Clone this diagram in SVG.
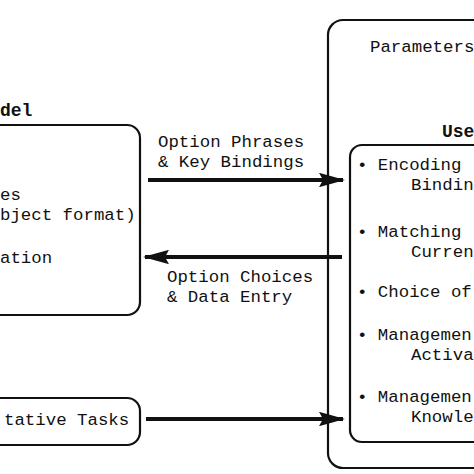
<svg xmlns="http://www.w3.org/2000/svg" width="474" height="474" viewBox="0 0 474 474">
<style>
.t{font-family:"Liberation Mono","Courier New",monospace;font-size:17.4px;fill:#111}
.b{font-family:"Liberation Mono","Courier New",monospace;font-size:18px;font-weight:bold;fill:#111}
.box{fill:none;stroke:#111;stroke-width:2.2}
.arr{stroke:#111;stroke-width:4;fill:none}
</style>
<defs>
<marker id="ah" markerWidth="6.5" markerHeight="3.6" refX="6" refY="1.8" orient="auto" markerUnits="strokeWidth">
<path d="M0,0 L6.5,1.8 L0,3.6 L1,1.8 Z" fill="#111"/>
</marker>
</defs>
<rect width="474" height="474" fill="#fff"/>
<g id="left-model">
<text class="b" x="0" y="116">del</text>
<rect class="box" x="-30" y="125" width="170" height="190" rx="13"/>
<text class="t" x="0" y="200">es</text>
<text class="t" x="0" y="220">bject format)</text>
<text class="t" x="0" y="263">ation</text>
</g>
<g id="left-tasks">
<rect class="box" x="-30" y="398" width="170" height="47" rx="13"/>
<text class="t" x="4" y="425">tative Tasks</text>
</g>
<g id="outer-right">
<rect class="box" x="328" y="20" width="180" height="448" rx="15"/>
<text class="t" x="370" y="52">Parameters</text>
<text class="b" x="442" y="137">Use</text>
</g>
<g id="inner-right">
<rect class="box" x="350" y="145" width="160" height="297" rx="12"/>
<text class="t" x="357" y="170">• Encoding</text>
<text class="t" x="411" y="190">Bindin</text>
<text class="t" x="357" y="237">• Matching</text>
<text class="t" x="411" y="257">Curren</text>
<text class="t" x="357" y="297">• Choice of</text>
<text class="t" x="357" y="340">• Managemen</text>
<text class="t" x="411" y="360">Activa</text>
<text class="t" x="357" y="402">• Managemen</text>
<text class="t" x="411" y="422">Knowle</text>
</g>
<g id="connectors">
<line class="arr" x1="148" y1="180" x2="343" y2="180" marker-end="url(#ah)"/>
<line class="arr" x1="342" y1="257" x2="145" y2="257" marker-end="url(#ah)"/>
<line class="arr" x1="146" y1="419" x2="343" y2="419" marker-end="url(#ah)"/>
<text class="t" x="158" y="147">Option Phrases</text>
<text class="t" x="158" y="167">&amp; Key Bindings</text>
<text class="t" x="167" y="282">Option Choices</text>
<text class="t" x="167" y="302">&amp; Data Entry</text>
</g>
</svg>
